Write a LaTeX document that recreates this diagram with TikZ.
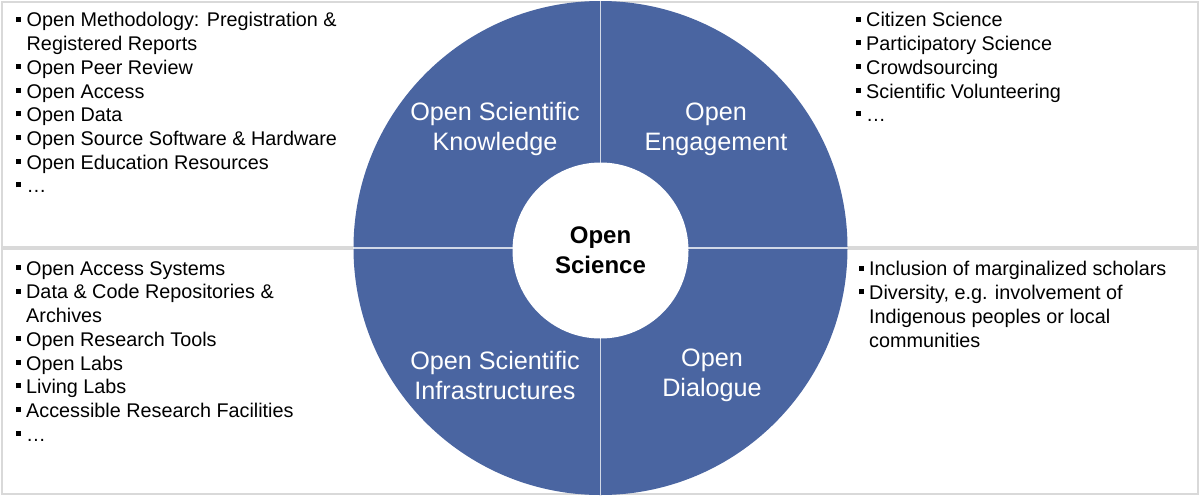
\documentclass[tikz,border=0pt]{standalone}
\usepackage{fontspec}
\setmainfont{Liberation Sans}
\setsansfont{Liberation Sans}
\usepackage{xcolor}
\usepackage{tikz}
\usetikzlibrary{positioning}
\definecolor{palBlue}{HTML}{4A65A1}
\definecolor{boxLine}{HTML}{D9D9D9}
\newcommand{\bul}{\makebox[10.5pt][l]{\rule[5.4pt]{5pt}{5pt}}}
\newcommand{\cont}{\hspace*{10.5pt}}

\begin{document}
\begin{tikzpicture}[
  x=1pt, y=-1pt,
  font=\sffamily,
  quad/.style={draw=boxLine, line width=1.2pt},
  list/.style={anchor=north west, inner sep=0pt, align=left, text=black,
    font=\sffamily\fontsize{19.8}{23.7}\selectfont},
  pillar/.style={align=center, inner sep=0pt, text=white,
    font=\sffamily\fontsize{25.2}{30}\selectfont},
  split/.style={draw=white, line width=1.2pt, draw opacity=0.75}
]
\useasboundingbox (0,0) rectangle (1200,496);

% quadrant boxes
\draw[quad] (2,2)     rectangle (600,247);
\draw[quad] (600,2)   rectangle (1198,247);
\draw[quad] (2,249)   rectangle (600,494);
\draw[quad] (600,249) rectangle (1198,494);

% the wheel
\node[circle, fill=palBlue, inner sep=0pt, minimum size=494pt] (ring) at (600.5,248) {};
\draw[split] (ring.north) -- (ring.south);
\draw[split] (ring.west) -- (ring.east);
\node[circle, fill=white, inner sep=0pt, minimum size=176pt, align=center,
  font=\sffamily\bfseries\fontsize{24}{30}\selectfont] (hub) at (600.5,250.5)
  {Open\\Science};

\node[pillar] (know)  at (495,129) {Open Scientific\\Knowledge};
\node[pillar] (engage) at (716,129) {Open\\Engagement};
\node[pillar] (infra) at (495,375) {Open Scientific\\Infrastructures};
\node[pillar] (dialog) at (712,375) {Open\\Dialogue};

% item lists
\node[list] (knowList) at (16,10.2)
  {\strut\bul Open Methodology: Pregistration \&\\
   \cont Registered Reports\\
   \bul Open Peer Review\\
   \bul Open Access\\
   \bul Open Data\\
   \bul Open Source Software \& Hardware\\
   \bul Open Education Resources\\
   \bul …};
\node[list] (engList) at (855.5,10.2)
  {\strut\bul Citizen Science\\
   \bul Participatory Science\\
   \bul Crowdsourcing\\
   \bul Scientific Volunteering\\
   \bul …};
\node[list] (infraList) at (15.5,258.5)
  {\strut\bul Open Access Systems\\
   \bul Data \& Code Repositories \&\\
   \cont Archives\\
   \bul Open Research Tools\\
   \bul Open Labs\\
   \bul Living Labs\\
   \bul Accessible Research Facilities\\
   \bul …};
\node[list] (dialList) at (858.5,259.2)
  {\strut\bul Inclusion of marginalized scholars\\
   \bul Diversity, e.g. involvement of\\
   \cont Indigenous peoples or local\\
   \cont communities};

\end{tikzpicture}
\end{document}
